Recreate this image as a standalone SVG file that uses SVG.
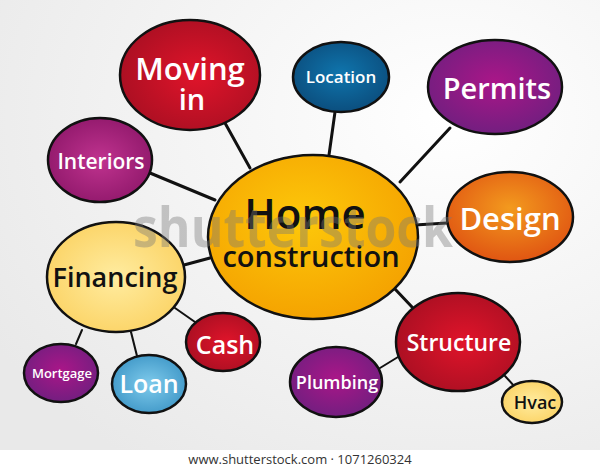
<svg xmlns="http://www.w3.org/2000/svg" width="600" height="470" viewBox="0 0 600 470">
<defs>
<radialGradient id="bg" cx="0.75" cy="0.25" r="0.9"><stop offset="0" stop-color="#ffffff"/><stop offset="1" stop-color="#e9e9e9"/></radialGradient>
<radialGradient id="gRed" cx="0.55" cy="0.5" r="0.6"><stop offset="0" stop-color="#e0142a"/><stop offset="1" stop-color="#a80f22"/></radialGradient>
<radialGradient id="gMag" cx="0.5" cy="0.5" r="0.6"><stop offset="0" stop-color="#c0338f"/><stop offset="1" stop-color="#8c1668"/></radialGradient>
<radialGradient id="gBlue" cx="0.5" cy="0.45" r="0.6"><stop offset="0" stop-color="#0f75ad"/><stop offset="1" stop-color="#0b4b7a"/></radialGradient>
<radialGradient id="gPurp" cx="0.5" cy="0.45" r="0.6"><stop offset="0" stop-color="#aa1688"/><stop offset="1" stop-color="#6e1f7f"/></radialGradient>
<radialGradient id="gOrange" cx="0.5" cy="0.4" r="0.6"><stop offset="0" stop-color="#f39a1e"/><stop offset="1" stop-color="#e05512"/></radialGradient>
<radialGradient id="gCenter" cx="0.45" cy="0.4" r="0.65"><stop offset="0" stop-color="#fdc80a"/><stop offset="1" stop-color="#f4a000"/></radialGradient>
<radialGradient id="gYellow" cx="0.5" cy="0.5" r="0.6"><stop offset="0" stop-color="#ffeca0"/><stop offset="1" stop-color="#fbd160"/></radialGradient>
<radialGradient id="gLight" cx="0.5" cy="0.5" r="0.6"><stop offset="0" stop-color="#7fcbec"/><stop offset="1" stop-color="#3a93c4"/></radialGradient>
</defs>
<style>
.n{stroke:#111;stroke-width:2.5}
.c{stroke:#111;stroke-width:3;stroke-linecap:round;fill:none}
.cs{stroke:#111;stroke-width:2;stroke-linecap:round;fill:none}
text{font-family:"Open Sans","Liberation Sans",sans-serif;text-anchor:middle}
.w{fill:#fff;font-weight:600}
.b{fill:#111;font-weight:600}
</style>
<rect width="600" height="470" fill="url(#bg)"/>
<rect y="450" width="600" height="20" fill="#ffffff"/>
<g id="connectors">
<line class="c" x1="225" y1="123" x2="250" y2="168"/>
<line class="c" x1="150" y1="173" x2="215" y2="200"/>
<line class="c" x1="335" y1="112" x2="329" y2="155"/>
<line class="c" x1="450" y1="128" x2="400" y2="182"/>
<line class="c" x1="447" y1="223" x2="415" y2="225"/>
<line class="c" x1="184" y1="265" x2="210" y2="258"/>
<line class="c" x1="395" y1="289" x2="412" y2="307"/>
<line class="cs" x1="175" y1="308" x2="195" y2="322"/>
<line class="cs" x1="82" y1="330" x2="76" y2="344"/>
<line class="cs" x1="131" y1="332" x2="137" y2="356"/>
<line class="cs" x1="398" y1="357" x2="380" y2="368"/>
<line class="cs" x1="505" y1="376" x2="515" y2="387"/>
</g>
<g id="center"><ellipse class="n" cx="313" cy="237" rx="105" ry="82" fill="url(#gCenter)"/>
<text class="b" x="305" y="229" font-size="42">Home</text>
<text class="b" x="311" y="267" font-size="29">construction</text></g>
<g id="moving"><ellipse class="n" cx="190" cy="75" rx="70" ry="55" fill="url(#gRed)"/>
<text class="w" x="190" y="80" font-size="31">Moving</text>
<text class="w" x="192" y="110" font-size="29">in</text></g>
<g id="interiors"><ellipse class="n" cx="100" cy="160" rx="52" ry="42" fill="url(#gMag)"/>
<text class="w" x="101" y="169" font-size="21">Interiors</text></g>
<g id="location"><ellipse class="n" cx="341" cy="77" rx="48" ry="35" fill="url(#gBlue)"/>
<text class="w" x="341" y="83" font-size="17">Location</text></g>
<g id="permits"><ellipse class="n" cx="495" cy="87" rx="67" ry="47" fill="url(#gPurp)"/>
<text class="w" x="497" y="99" font-size="29">Permits</text></g>
<g id="design"><ellipse class="n" cx="510" cy="217" rx="63" ry="45" fill="url(#gOrange)"/>
<text class="w" x="510" y="230" font-size="31">Design</text></g>
<g id="financing"><ellipse class="n" cx="116" cy="277" rx="69" ry="55" fill="url(#gYellow)"/>
<text class="b" x="115" y="287" font-size="27">Financing</text></g>
<g id="cash"><ellipse class="n" cx="223" cy="342" rx="37" ry="29" fill="url(#gRed)"/>
<text class="w" x="225" y="354" font-size="25">Cash</text></g>
<g id="mortgage"><ellipse class="n" cx="61" cy="373" rx="37" ry="29" fill="url(#gPurp)"/>
<text class="w" x="62" y="378" font-size="13">Mortgage</text></g>
<g id="loan"><ellipse class="n" cx="149" cy="384" rx="37" ry="29" fill="url(#gLight)"/>
<text class="w" x="149" y="393" font-size="25">Loan</text></g>
<g id="structure"><ellipse class="n" cx="458" cy="342" rx="62" ry="49" fill="url(#gRed)"/>
<text class="w" x="459" y="351" font-size="23">Structure</text></g>
<g id="plumbing"><ellipse class="n" cx="336" cy="382" rx="46" ry="35" fill="url(#gPurp)"/>
<text class="w" x="337" y="389" font-size="18">Plumbing</text></g>
<g id="hvac"><ellipse class="n" cx="532" cy="402" rx="30" ry="21" fill="url(#gYellow)"/>
<text class="b" x="535" y="409" font-size="18">Hvac</text></g>
<text x="293" y="247" font-size="56" font-weight="700" textLength="320" lengthAdjust="spacingAndGlyphs" fill="#777" fill-opacity="0.4">shutterstock</text>
<text x="300" y="464" font-size="13" fill="#333">www.shutterstock.com · 1071260324</text>
</svg>
